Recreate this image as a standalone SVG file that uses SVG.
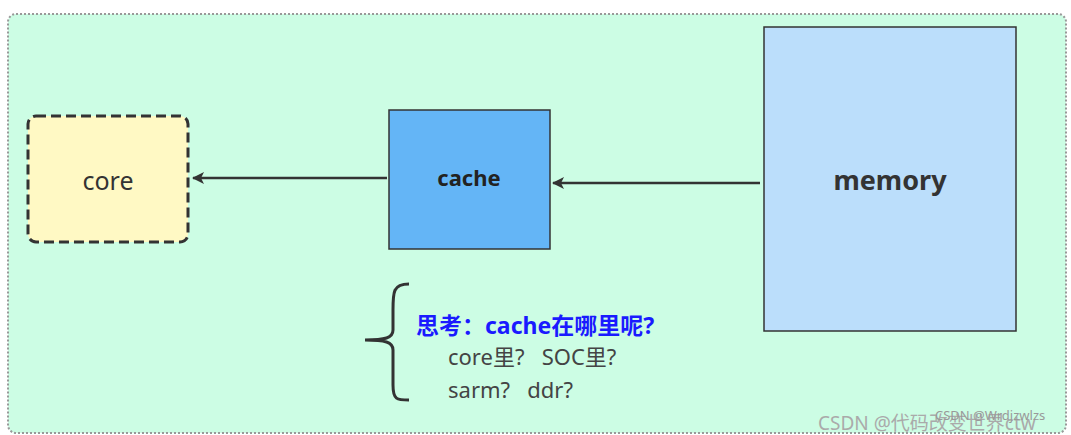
<svg xmlns="http://www.w3.org/2000/svg" width="1071" height="435" viewBox="0 0 1071 435">
<defs>
<marker id="ah" viewBox="0 0 12 12" refX="11" refY="6" markerWidth="12" markerHeight="12" markerUnits="userSpaceOnUse" orient="auto"><path d="M0,0 L12,6 L0,12 L3,6 Z" fill="#333"/></marker>
<style>
text{font-family:"Microsoft YaHei","Noto Sans","Noto Sans CJK SC",sans-serif;white-space:pre}
.c{stroke:#333;stroke-width:2.5;fill:none}
</style>
</defs>
<rect x="0" y="0" width="1071" height="435" fill="#fff"/>
<rect x="8" y="14" width="1058" height="419" rx="8" fill="#ccfde4" stroke="#999" stroke-width="2" stroke-dasharray="2,2"/>
<g id="core"><rect x="28" y="116" width="160" height="126" rx="8" fill="#fff9c4" stroke="#333" stroke-width="3" stroke-dasharray="10,5"/><text x="108" y="190" font-size="25" fill="#333" text-anchor="middle">core</text></g>
<g id="cache"><rect x="389" y="110" width="161" height="139" fill="#64b5f6" stroke="#333" stroke-width="1.5"/><text x="469" y="186" font-size="22" font-weight="bold" fill="#222" text-anchor="middle">cache</text></g>
<g id="memory"><rect x="764" y="27" width="252" height="304" fill="#bbdefb" stroke="#333" stroke-width="1.5"/><text x="890" y="190" font-size="27" font-weight="bold" fill="#333" text-anchor="middle">memory</text></g>
<g id="connectors">
<line class="c" x1="387" y1="178" x2="193" y2="178" marker-end="url(#ah)"/>
<line class="c" x1="760" y1="183" x2="553" y2="183" marker-end="url(#ah)"/>
</g>
<g id="note">
<path d="M409,284 C393,284 393,292 393,310 L393,330 C393,338 385,340 365,340 C385,340 393,342 393,350 L393,385 C393,400 397,400 409,400" fill="none" stroke="#333" stroke-width="3"/>
<text x="416" y="334" font-size="23" font-weight="bold" fill="#1a1aff">思考：cache在哪里呢?</text>
<text x="448" y="365" font-size="22" fill="#444" xml:space="preserve">core里?   SOC里?</text>
<text x="448" y="398" font-size="22" fill="#444" xml:space="preserve">sarm?   ddr?</text>
</g>
<text x="818" y="430" font-size="19" fill="#aaa">CSDN @代码改变世界ctw</text>
<text x="935" y="420" font-size="13" fill="#999">CSDN @Wrdjzwlzs</text>
</svg>
